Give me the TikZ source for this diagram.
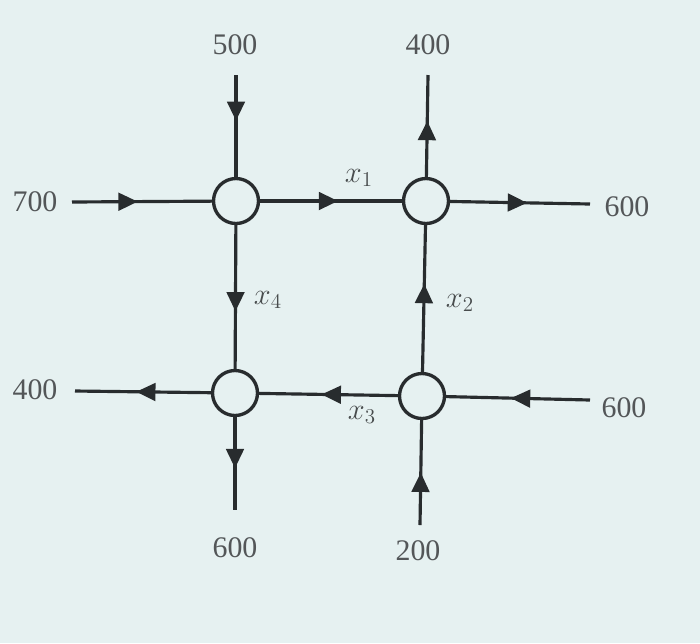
\documentclass[tikz,border=0pt]{standalone}
\usepackage{fontspec}
\setmainfont{Liberation Serif}
\usetikzlibrary{decorations.markings,arrows.meta}
\definecolor{bgcol}{RGB}{230,241,241}
\definecolor{ink}{RGB}{40,44,46}
\tikzset{
  junction/.style={circle, draw=ink, line width=1.9pt, minimum size=0.9cm, inner sep=0pt, fill=bgcol},
  flow/.style={draw=ink, line width=1.8pt, decoration={markings, mark=at position #1 with {\arrow{Triangle[length=11pt,width=10pt]}}}, postaction=decorate},
  flow/.default=0.5,
  amount/.style={font=\fontsize{17}{20}\selectfont, text=ink!80},
  varlabel/.style={font=\fontsize{18}{21}\selectfont, text=ink!85}
}
\begin{document}
\begin{tikzpicture}
									\fill[bgcol] (0, 0) rectangle (14, -12.86);
									\useasboundingbox (0, 0) rectangle (14, -12.86);
									% junctions
									\node[junction] (a) at (4.72, -4.02) {};
									\node[junction] (b) at (8.52, -4.02) {};
									\node[junction] (c) at (4.70, -7.86) {};
									\node[junction] (d) at (8.44, -7.92) {};
									% free ends
									\coordinate (atop) at (4.72, -1.5);
									\coordinate (aleft) at (1.44, -4.04);
									\coordinate (btop) at (8.56, -1.5);
									\coordinate (bright) at (11.8, -4.08);
									\coordinate (cleft) at (1.5, -7.82);
									\coordinate (cbot) at (4.70, -10.2);
									\coordinate (dright) at (11.8, -8.0);
									\coordinate (dbot) at (8.40, -10.5);
									% flows
									\draw[flow=0.45] (atop) -- (a);
									\draw[flow=0.47] (aleft) -- (a);
									\draw[flow=0.55] (a) -- (b);
									\draw[flow=0.55] (b) -- (btop);
									\draw[flow=0.55] (b) -- (bright);
									\draw[flow=0.6] (a) -- (c);
									\draw[flow=0.6] (d) -- (b);
									\draw[flow=0.55] (d) -- (c);
									\draw[flow=0.55] (c) -- (cleft);
									\draw[flow=0.55] (dright) -- (d);
									\draw[flow=0.55] (c) -- (cbot);
									\draw[flow=0.5] (dbot) -- (d);
									% amounts
									\node[amount] (n500) at (4.70, -0.9) {500};
									\node[amount] (n400t) at (8.56, -0.9) {400};
									\node[amount] (n700) at (0.7, -4.04) {700};
									\node[amount] (n600r) at (12.54, -4.14) {600};
									\node[amount] (n400l) at (0.7, -7.80) {400};
									\node[amount] (n600rr) at (12.48, -8.16) {600};
									\node[amount] (n600b) at (4.70, -10.96) {600};
									\node[amount] (n200) at (8.36, -11.02) {200};
									% unknowns
									\node[varlabel] (x1) at (7.18, -3.56) {$x_1$};
									\node[varlabel] (x4) at (5.36, -6.0) {$x_4$};
									\node[varlabel] (x2) at (9.2, -6.06) {$x_2$};
									\node[varlabel] (x3) at (7.24, -8.3) {$x_3$};
								\end{tikzpicture}
\end{document}
